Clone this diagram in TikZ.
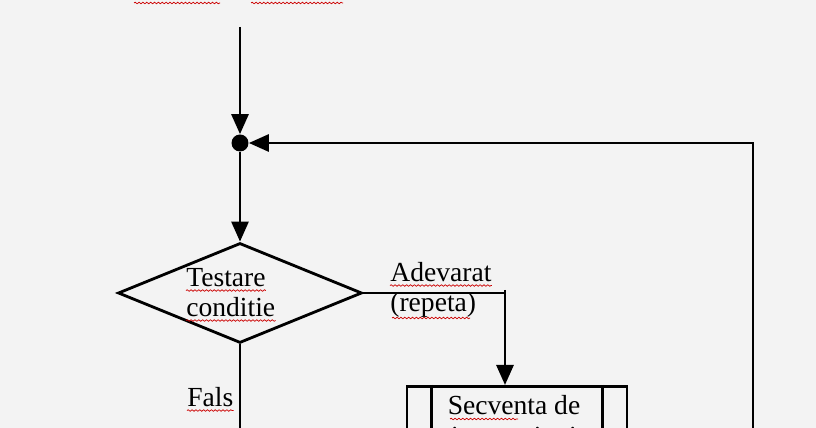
\documentclass[tikz,border=0pt]{standalone}
\usepackage{fontspec}
\setmainfont{Liberation Serif}
\usetikzlibrary{shapes.geometric,arrows.meta,decorations.pathmorphing,positioning}
\definecolor{pagebg}{RGB}{243,243,243}
\tikzset{
	flow/.style={line width=1.6pt,-{Triangle[length=0.4cm,width=0.34cm]}},
	line/.style={line width=1.6pt},
	lbl/.style={inner sep=0pt,font=\fontsize{15.7}{18}\selectfont},
	squig/.style={red!80!black,line width=0.4pt,decorate,decoration={snake,amplitude=0.45pt,segment length=2.2pt}},
	decision/.style={diamond,draw,line width=1.6pt,aspect=2.44,minimum width=4.88cm,minimum height=2cm,inner sep=0pt},
	process/.style={rectangle,draw,line width=1.6pt,minimum width=4.4cm,minimum height=2.6cm,inner sep=0pt},
}
\begin{document}
\begin{tikzpicture}[x=0.02cm,y=-0.02cm]
	\fill[pagebg] (0,0) rectangle (816,428);
	\useasboundingbox (0,0) rectangle (816,428);
	\clip (0,0) rectangle (816,428);

	% nodes
	\coordinate (top) at (240,27);
	\node[circle,fill,minimum size=0.34cm,inner sep=0pt] (dot) at (240,143) {};
	\node[decision] (test) at (240,293) {};
	\node[process,anchor=north] (seq) at (517,385) {};
	\coordinate (turn) at (505,290);
	\coordinate (nobot) at (240,450);
	\coordinate (loopbot) at (753,450);

	% texts
	\node[lbl,anchor=base west] (t1) at (186,287) {Testare};
	\node[lbl,anchor=base west] (t2) at (186,317) {conditie};
	\node[lbl,anchor=base west] (yes1) at (390,282) {Adevarat};
	\node[lbl,anchor=base west] (yes2) at (390,312) {(repeta)};
	\node[lbl,anchor=base west] (no) at (187,407) {Fals};
	\node[lbl,anchor=base] (s1) at (514,415) {Secventa de};
	\node[lbl,anchor=base] (s2) at (514,446) {instructiuni};

	% connectors
	\draw[flow] (top) -- (dot);
	\draw[flow] (dot) -- (test.north);
	\draw[line] (test.east) -- (test.east -| turn) -- (turn);
	\draw[flow] (turn) -- (turn |- seq.north);
	\draw[line] (test.south) -- (nobot);
	\draw[flow] (loopbot) |- (dot);
	\draw[line] ([xshift=0.52cm]seq.north west) -- ([xshift=0.52cm]seq.south west);
	\draw[line] ([xshift=-0.52cm]seq.north east) -- ([xshift=-0.52cm]seq.south east);

	% spell check underlines
	\foreach \n in {t1,t2,yes1,no}
		\draw[squig] ([yshift=-2pt]\n.base west) -- ([yshift=-2pt]\n.base east);
	\draw[squig] (392,318) -- (470,318);
	\draw[squig] (450,419) -- (518,419);
	\draw[squig] (134,3) -- (220,3);
	\draw[squig] (251,3) -- (343,3);
\end{tikzpicture}
\end{document}
